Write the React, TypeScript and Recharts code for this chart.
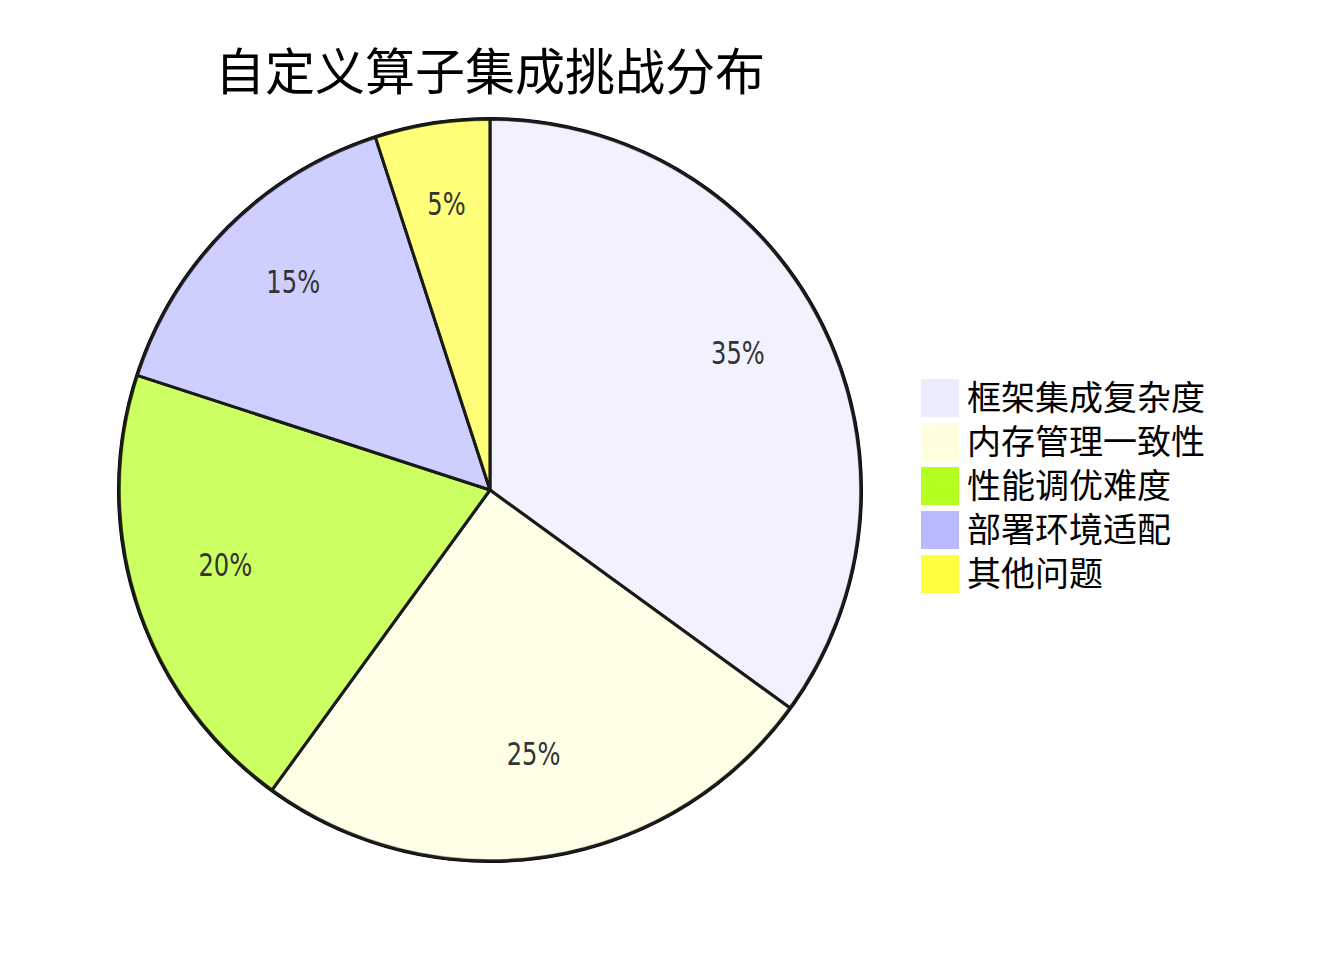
import * as React from 'react'
import { Cell, Legend, Pie, PieChart } from 'recharts'

if (typeof document !== 'undefined') document.body.style.margin = '0'

const title = '自定义算子集成挑战分布'
const categories = ['框架集成复杂度', '内存管理一致性', '性能调优难度', '部署环境适配', '其他问题']
const shares = [35, 25, 20, 15, 5]
const colors = ['#ECECFF', '#FFFFDE', '#B5FF20', '#B9B9FF', '#FFFF40']

const data = categories.map((name, i) => ({ name, value: shares[i] }))

const FONT = '"trebuchet ms", verdana, arial, "Noto Sans CJK SC", sans-serif'
const LABEL_FONT = '"DejaVu Sans Condensed", sans-serif'
const CX = 490
const CY = 490
const R = 371
const RAD = Math.PI / 180

function renderLabel(props: any) {
  const { cx, cy, midAngle, outerRadius, value } = props
  const r = outerRadius * 0.75
  const x = cx + r * Math.cos(-midAngle * RAD)
  const y = cy + r * Math.sin(-midAngle * RAD)
  // the reference digits are narrower than any installed face, squeeze a bit
  return (
    <text
      transform={`translate(${x},${y}) scale(0.84,1)`}
      textAnchor="middle"
      fill="#333"
      fontSize={32}
      fontFamily={LABEL_FONT}
    >
      {value}%
    </text>
  )
}

function LegendBox(props: any) {
  const items = props.payload && props.payload.length ? props.payload : []
  return (
    <div>
      {categories.map((name, i) => {
        const p = items.find((it: any) => it.value === name)
        return (
          <div key={name} style={{ display: 'flex', alignItems: 'center', height: 38, marginBottom: 6 }}>
            <div style={{ width: 38, height: 38, background: p?.color ?? colors[i] }} />
            <span style={{ marginLeft: 8, fontSize: 34, fontFamily: FONT, color: '#000', lineHeight: '38px' }}>
              {name}
            </span>
          </div>
        )
      })}
    </div>
  )
}

export default function App() {
  return (
    <PieChart width={1341} height={980} margin={{ top: 0, right: 0, bottom: 0, left: 0 }}>
      <text x={CX} y={90} textAnchor="middle" fontSize={50} fontFamily={FONT} fill="#000">
        {title}
      </text>
      <Pie
        data={data}
        dataKey="value"
        nameKey="name"
        cx={CX}
        cy={CY}
        outerRadius={R}
        startAngle={90}
        endAngle={-270}
        stroke="#1a1a1a"
        strokeWidth={3}
        label={renderLabel}
        labelLine={false}
        isAnimationActive={false}
      >
        {data.map((d, i) => (
          <Cell key={d.name} fill={colors[i]} fillOpacity={0.7} />
        ))}
      </Pie>
      <circle cx={CX} cy={CY} r={R} fill="none" stroke="#000" strokeWidth={4} />
      <Legend
        content={LegendBox}
        wrapperStyle={{ position: 'absolute', left: 921, top: 379, width: 320 }}
      />
    </PieChart>
  )
}
